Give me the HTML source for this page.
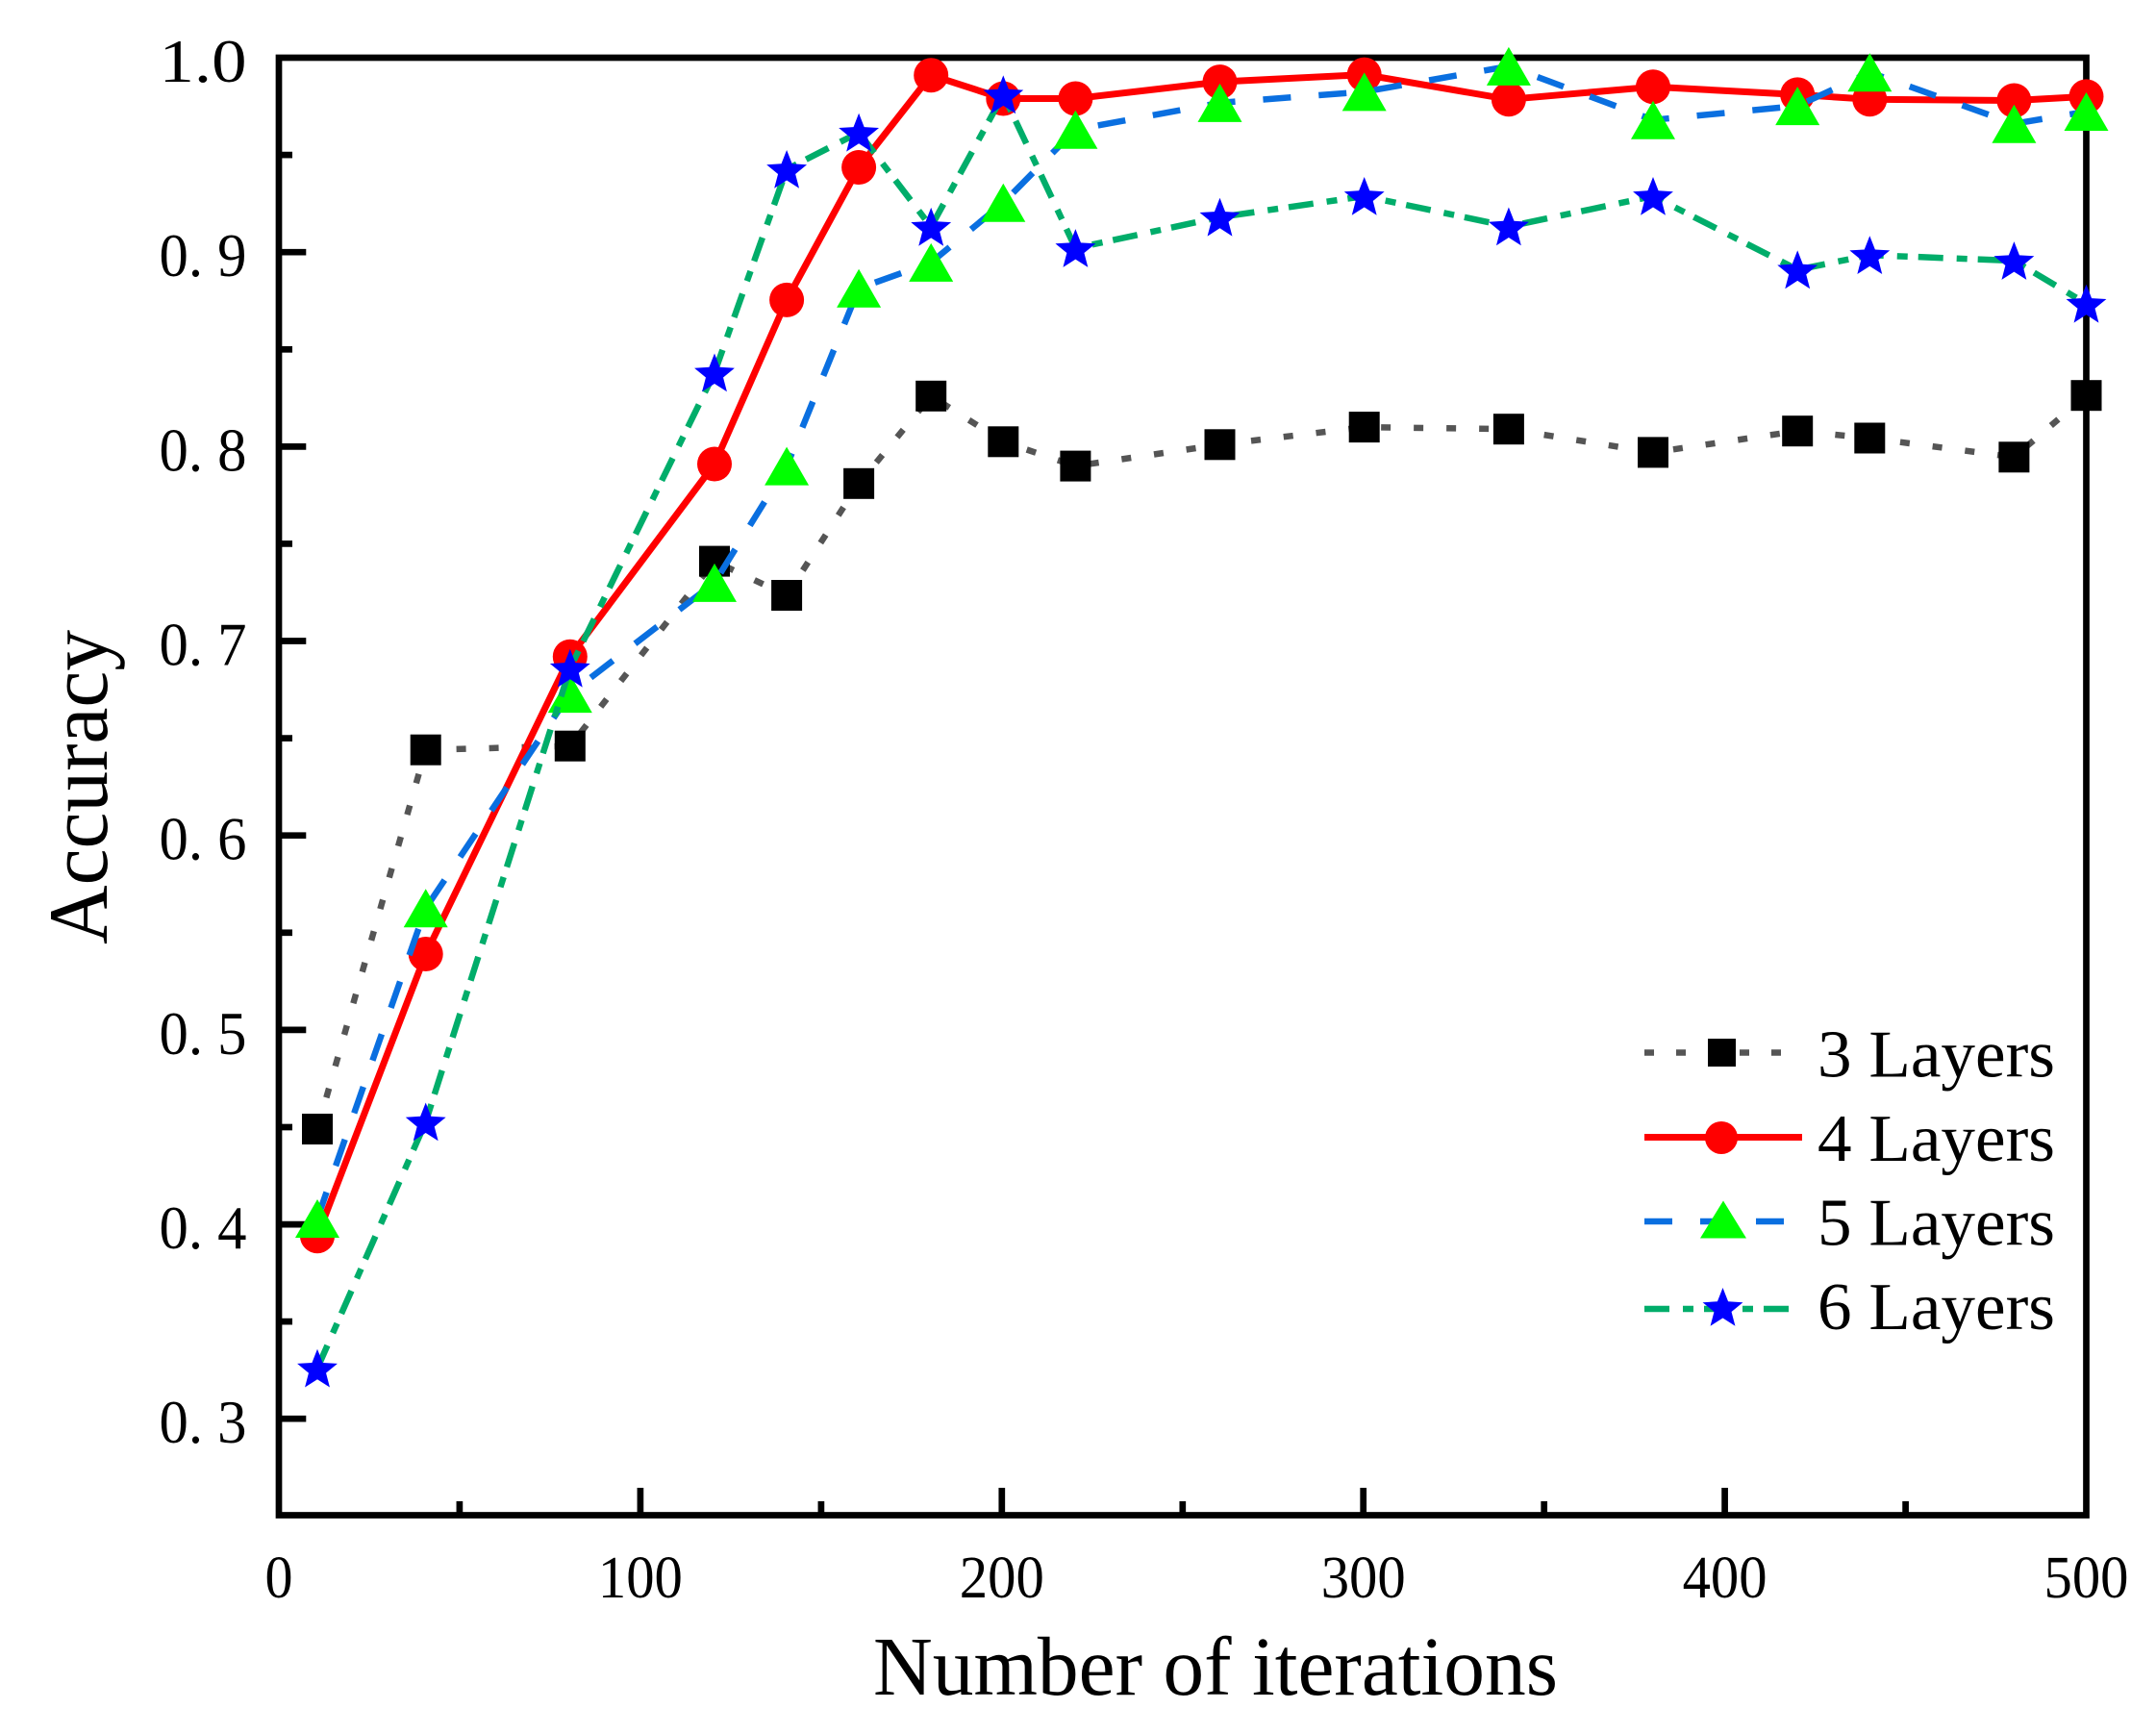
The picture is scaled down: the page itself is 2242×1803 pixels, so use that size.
<!DOCTYPE html>
<html>
<head>
<meta charset="utf-8">
<style>
html,body{margin:0;padding:0;background:#fff;}
svg{display:block;}
text{font-family:"Liberation Serif","Times New Roman",serif;fill:#000;}
</style>
</head>
<body>
<svg width="2242" height="1803" viewBox="0 0 2242 1803" xmlns="http://www.w3.org/2000/svg">
<defs>
  <rect id="sq" x="-16" y="-16" width="32" height="32" fill="#000"/>
  <circle id="ci" cx="0" cy="0" r="18" fill="#ff0000"/>
  <polygon id="tr" points="0,-20 23,20 -23,20" fill="#00ff00"/>
  <polygon id="st" points="0,-20 5.58,-5.69 20.92,-4.8 9.04,4.94 12.93,19.8 0,11.5 -12.93,19.8 -9.04,4.94 -20.92,-4.8 -5.58,-5.69" fill="#0000ff"/>
</defs>
<rect x="0" y="0" width="2242" height="1803" fill="#fff"/>

<!-- Axes frame -->
<rect x="290" y="60" width="1879.5" height="1515.5" fill="none" stroke="#000" stroke-width="6.7"/>

<!-- Left ticks -->
<g stroke="#000" stroke-width="6.7">
  <line x1="290" y1="262.2" x2="318.3" y2="262.2"/>
  <line x1="290" y1="464.4" x2="318.3" y2="464.4"/>
  <line x1="290" y1="666.5" x2="318.3" y2="666.5"/>
  <line x1="290" y1="868.7" x2="318.3" y2="868.7"/>
  <line x1="290" y1="1070.9" x2="318.3" y2="1070.9"/>
  <line x1="290" y1="1273.1" x2="318.3" y2="1273.1"/>
  <line x1="290" y1="1475.2" x2="318.3" y2="1475.2"/>
  <line x1="290" y1="161.1" x2="304" y2="161.1"/>
  <line x1="290" y1="363.3" x2="304" y2="363.3"/>
  <line x1="290" y1="565.4" x2="304" y2="565.4"/>
  <line x1="290" y1="767.6" x2="304" y2="767.6"/>
  <line x1="290" y1="969.8" x2="304" y2="969.8"/>
  <line x1="290" y1="1172" x2="304" y2="1172"/>
  <line x1="290" y1="1374.1" x2="304" y2="1374.1"/>
  <!-- bottom ticks -->
  <line x1="665.9" y1="1575.5" x2="665.9" y2="1547"/>
  <line x1="1041.8" y1="1575.5" x2="1041.8" y2="1547"/>
  <line x1="1417.7" y1="1575.5" x2="1417.7" y2="1547"/>
  <line x1="1793.6" y1="1575.5" x2="1793.6" y2="1547"/>
  <line x1="477.9" y1="1575.5" x2="477.9" y2="1561"/>
  <line x1="853.9" y1="1575.5" x2="853.9" y2="1561"/>
  <line x1="1229.8" y1="1575.5" x2="1229.8" y2="1561"/>
  <line x1="1605.7" y1="1575.5" x2="1605.7" y2="1561"/>
  <line x1="1981.6" y1="1575.5" x2="1981.6" y2="1561"/>
</g>

<!-- Y tick labels -->
<g font-size="63">
  <text x="165.5" y="85" textLength="91" lengthAdjust="spacingAndGlyphs">1.0</text>
  <text x="165.5" y="287.2" textLength="91" lengthAdjust="spacingAndGlyphs">0. 9</text>
  <text x="165.5" y="489.4" textLength="91" lengthAdjust="spacingAndGlyphs">0. 8</text>
  <text x="165.5" y="691.5" textLength="91" lengthAdjust="spacingAndGlyphs">0. 7</text>
  <text x="165.5" y="893.7" textLength="91" lengthAdjust="spacingAndGlyphs">0. 6</text>
  <text x="165.5" y="1095.9" textLength="91" lengthAdjust="spacingAndGlyphs">0. 5</text>
  <text x="165.5" y="1298.1" textLength="91" lengthAdjust="spacingAndGlyphs">0. 4</text>
  <text x="165.5" y="1500.2" textLength="91" lengthAdjust="spacingAndGlyphs">0. 3</text>
</g>

<!-- X tick labels -->
<g font-size="62">
  <text x="275.5" y="1661" textLength="29" lengthAdjust="spacingAndGlyphs">0</text>
  <text x="621.9" y="1661" textLength="88" lengthAdjust="spacingAndGlyphs">100</text>
  <text x="997.8" y="1661" textLength="88" lengthAdjust="spacingAndGlyphs">200</text>
  <text x="1373.7" y="1661" textLength="88" lengthAdjust="spacingAndGlyphs">300</text>
  <text x="1749.6" y="1661" textLength="88" lengthAdjust="spacingAndGlyphs">400</text>
  <text x="2125.5" y="1661" textLength="88" lengthAdjust="spacingAndGlyphs">500</text>
</g>

<!-- Axis titles -->
<text x="908" y="1762" font-size="87" textLength="712" lengthAdjust="spacingAndGlyphs">Number of iterations</text>
<text transform="translate(111,982) rotate(-90)" font-size="88" textLength="327" lengthAdjust="spacingAndGlyphs">Accuracy</text>

<!-- Series 3 Layers -->
<polyline fill="none" stroke="#555555" stroke-width="6.5" stroke-dasharray="10 24" points="330.0,1174.0 442.7,779.7 592.8,775.7 743.0,583.6 818.1,619.0 893.1,502.8 968.2,411.8 1043.3,459.3 1118.4,484.6 1268.5,462.3 1418.7,444.1 1568.9,446.2 1719.0,470.4 1869.2,448.2 1944.3,455.5 2094.4,475.3 2169.5,411.2"/>
<g>
  <use href="#sq" x="330.0" y="1174.0"/>
  <use href="#sq" x="442.7" y="779.7"/>
  <use href="#sq" x="592.8" y="775.7"/>
  <use href="#sq" x="743.0" y="583.6"/>
  <use href="#sq" x="818.1" y="619.0"/>
  <use href="#sq" x="893.1" y="502.8"/>
  <use href="#sq" x="968.2" y="411.8"/>
  <use href="#sq" x="1043.3" y="459.3"/>
  <use href="#sq" x="1118.4" y="484.6"/>
  <use href="#sq" x="1268.5" y="462.3"/>
  <use href="#sq" x="1418.7" y="444.1"/>
  <use href="#sq" x="1568.9" y="446.2"/>
  <use href="#sq" x="1719.0" y="470.4"/>
  <use href="#sq" x="1869.2" y="448.2"/>
  <use href="#sq" x="1944.3" y="455.5"/>
  <use href="#sq" x="2094.4" y="475.3"/>
  <use href="#sq" x="2169.5" y="411.2"/>
</g>

<!-- Series 4 Layers -->
<polyline fill="none" stroke="#ff0000" stroke-width="7" stroke-linejoin="round" points="330.0,1285.2 442.7,992.0 592.8,682.7 743.0,482.5 818.1,311.9 893.1,174.0 968.2,78.2 1043.3,102.5 1118.4,102.5 1268.5,85.1 1418.7,77.6 1568.9,103.3 1719.0,90.3 1869.2,98.4 1944.3,103.3 2094.4,104.5 2169.5,100.4"/>
<g>
  <use href="#ci" x="330.0" y="1285.2"/>
  <use href="#ci" x="442.7" y="992.0"/>
  <use href="#ci" x="592.8" y="682.7"/>
  <use href="#ci" x="743.0" y="482.5"/>
  <use href="#ci" x="818.1" y="311.9"/>
  <use href="#ci" x="893.1" y="174.0"/>
  <use href="#ci" x="968.2" y="78.2"/>
  <use href="#ci" x="1043.3" y="102.5"/>
  <use href="#ci" x="1118.4" y="102.5"/>
  <use href="#ci" x="1268.5" y="85.1"/>
  <use href="#ci" x="1418.7" y="77.6"/>
  <use href="#ci" x="1568.9" y="103.3"/>
  <use href="#ci" x="1719.0" y="90.3"/>
  <use href="#ci" x="1869.2" y="98.4"/>
  <use href="#ci" x="1944.3" y="103.3"/>
  <use href="#ci" x="2094.4" y="104.5"/>
  <use href="#ci" x="2169.5" y="100.4"/>
</g>

<!-- Series 5 Layers -->
<polyline fill="none" stroke="#0a6fe0" stroke-width="6.5" stroke-dasharray="29 29" points="330.0,1267.0 442.7,944.3 592.8,721.1 743.0,605.9 818.1,484.6 893.1,299.8 968.2,272.9 1043.3,210.8 1118.4,134.8 1268.5,106.9 1418.7,95.4 1568.9,68.9 1719.0,124.7 1869.2,110.1 1944.3,75.2 2094.4,128.7 2169.5,116.0"/>
<g>
  <use href="#tr" x="330.0" y="1267.0"/>
  <use href="#tr" x="442.7" y="944.3"/>
  <use href="#tr" x="592.8" y="721.1"/>
  <use href="#tr" x="743.0" y="605.9"/>
  <use href="#tr" x="818.1" y="484.6"/>
  <use href="#tr" x="893.1" y="299.8"/>
  <use href="#tr" x="968.2" y="272.9"/>
  <use href="#tr" x="1043.3" y="210.8"/>
  <use href="#tr" x="1118.4" y="134.8"/>
  <use href="#tr" x="1268.5" y="106.9"/>
  <use href="#tr" x="1418.7" y="95.4"/>
  <use href="#tr" x="1568.9" y="68.9"/>
  <use href="#tr" x="1719.0" y="124.7"/>
  <use href="#tr" x="1869.2" y="110.1"/>
  <use href="#tr" x="1944.3" y="75.2"/>
  <use href="#tr" x="2094.4" y="128.7"/>
  <use href="#tr" x="2169.5" y="116.0"/>
</g>

<!-- Series 6 Layers -->
<polyline fill="none" stroke="#00ad6a" stroke-width="6.5" stroke-dasharray="26 14 11 11" points="330.0,1422.7 442.7,1166.5 592.8,694.8 743.0,387.5 818.1,176.0 893.1,137.8 968.2,235.9 1043.3,98.4 1118.4,258.1 1268.5,225.8 1418.7,204.0 1568.9,235.5 1719.0,204.0 1869.2,280.4 1944.3,265.2 2094.4,271.1 2169.5,315.8"/>
<g>
  <use href="#st" x="330.0" y="1422.7"/>
  <use href="#st" x="442.7" y="1166.5"/>
  <use href="#st" x="592.8" y="694.8"/>
  <use href="#st" x="743.0" y="387.5"/>
  <use href="#st" x="818.1" y="176.0"/>
  <use href="#st" x="893.1" y="137.8"/>
  <use href="#st" x="968.2" y="235.9"/>
  <use href="#st" x="1043.3" y="98.4"/>
  <use href="#st" x="1118.4" y="258.1"/>
  <use href="#st" x="1268.5" y="225.8"/>
  <use href="#st" x="1418.7" y="204.0"/>
  <use href="#st" x="1568.9" y="235.5"/>
  <use href="#st" x="1719.0" y="204.0"/>
  <use href="#st" x="1869.2" y="280.4"/>
  <use href="#st" x="1944.3" y="265.2"/>
  <use href="#st" x="2094.4" y="271.1"/>
  <use href="#st" x="2169.5" y="315.8"/>
</g>

<!-- Legend -->
<line x1="1710" y1="1094.5" x2="1859" y2="1094.5" stroke="#555555" stroke-width="6.5" stroke-dasharray="10 23"/>
<rect x="1776" y="1080" width="29" height="29" fill="#000"/>
<line x1="1710" y1="1182.5" x2="1874" y2="1182.5" stroke="#ff0000" stroke-width="7"/>
<circle cx="1790" cy="1183" r="17" fill="#ff0000"/>
<line x1="1710" y1="1270" x2="1856" y2="1270" stroke="#0a6fe0" stroke-width="6.5" stroke-dasharray="29 29"/>
<polygon points="1792,1248.5 1816,1287.5 1768,1287.5" fill="#00ff00"/>
<line x1="1710" y1="1361" x2="1874" y2="1361" stroke="#00ad6a" stroke-width="6.5" stroke-dasharray="26 14 11 11"/>
<use href="#st" x="1791.5" y="1359"/>

<g font-size="70">
  <text x="1890" y="1119.5" textLength="247" lengthAdjust="spacingAndGlyphs">3 Layers</text>
  <text x="1890" y="1207" textLength="247" lengthAdjust="spacingAndGlyphs">4 Layers</text>
  <text x="1890" y="1294.5" textLength="247" lengthAdjust="spacingAndGlyphs">5 Layers</text>
  <text x="1890" y="1382" textLength="247" lengthAdjust="spacingAndGlyphs">6 Layers</text>
</g>
</svg>
</body>
</html>
